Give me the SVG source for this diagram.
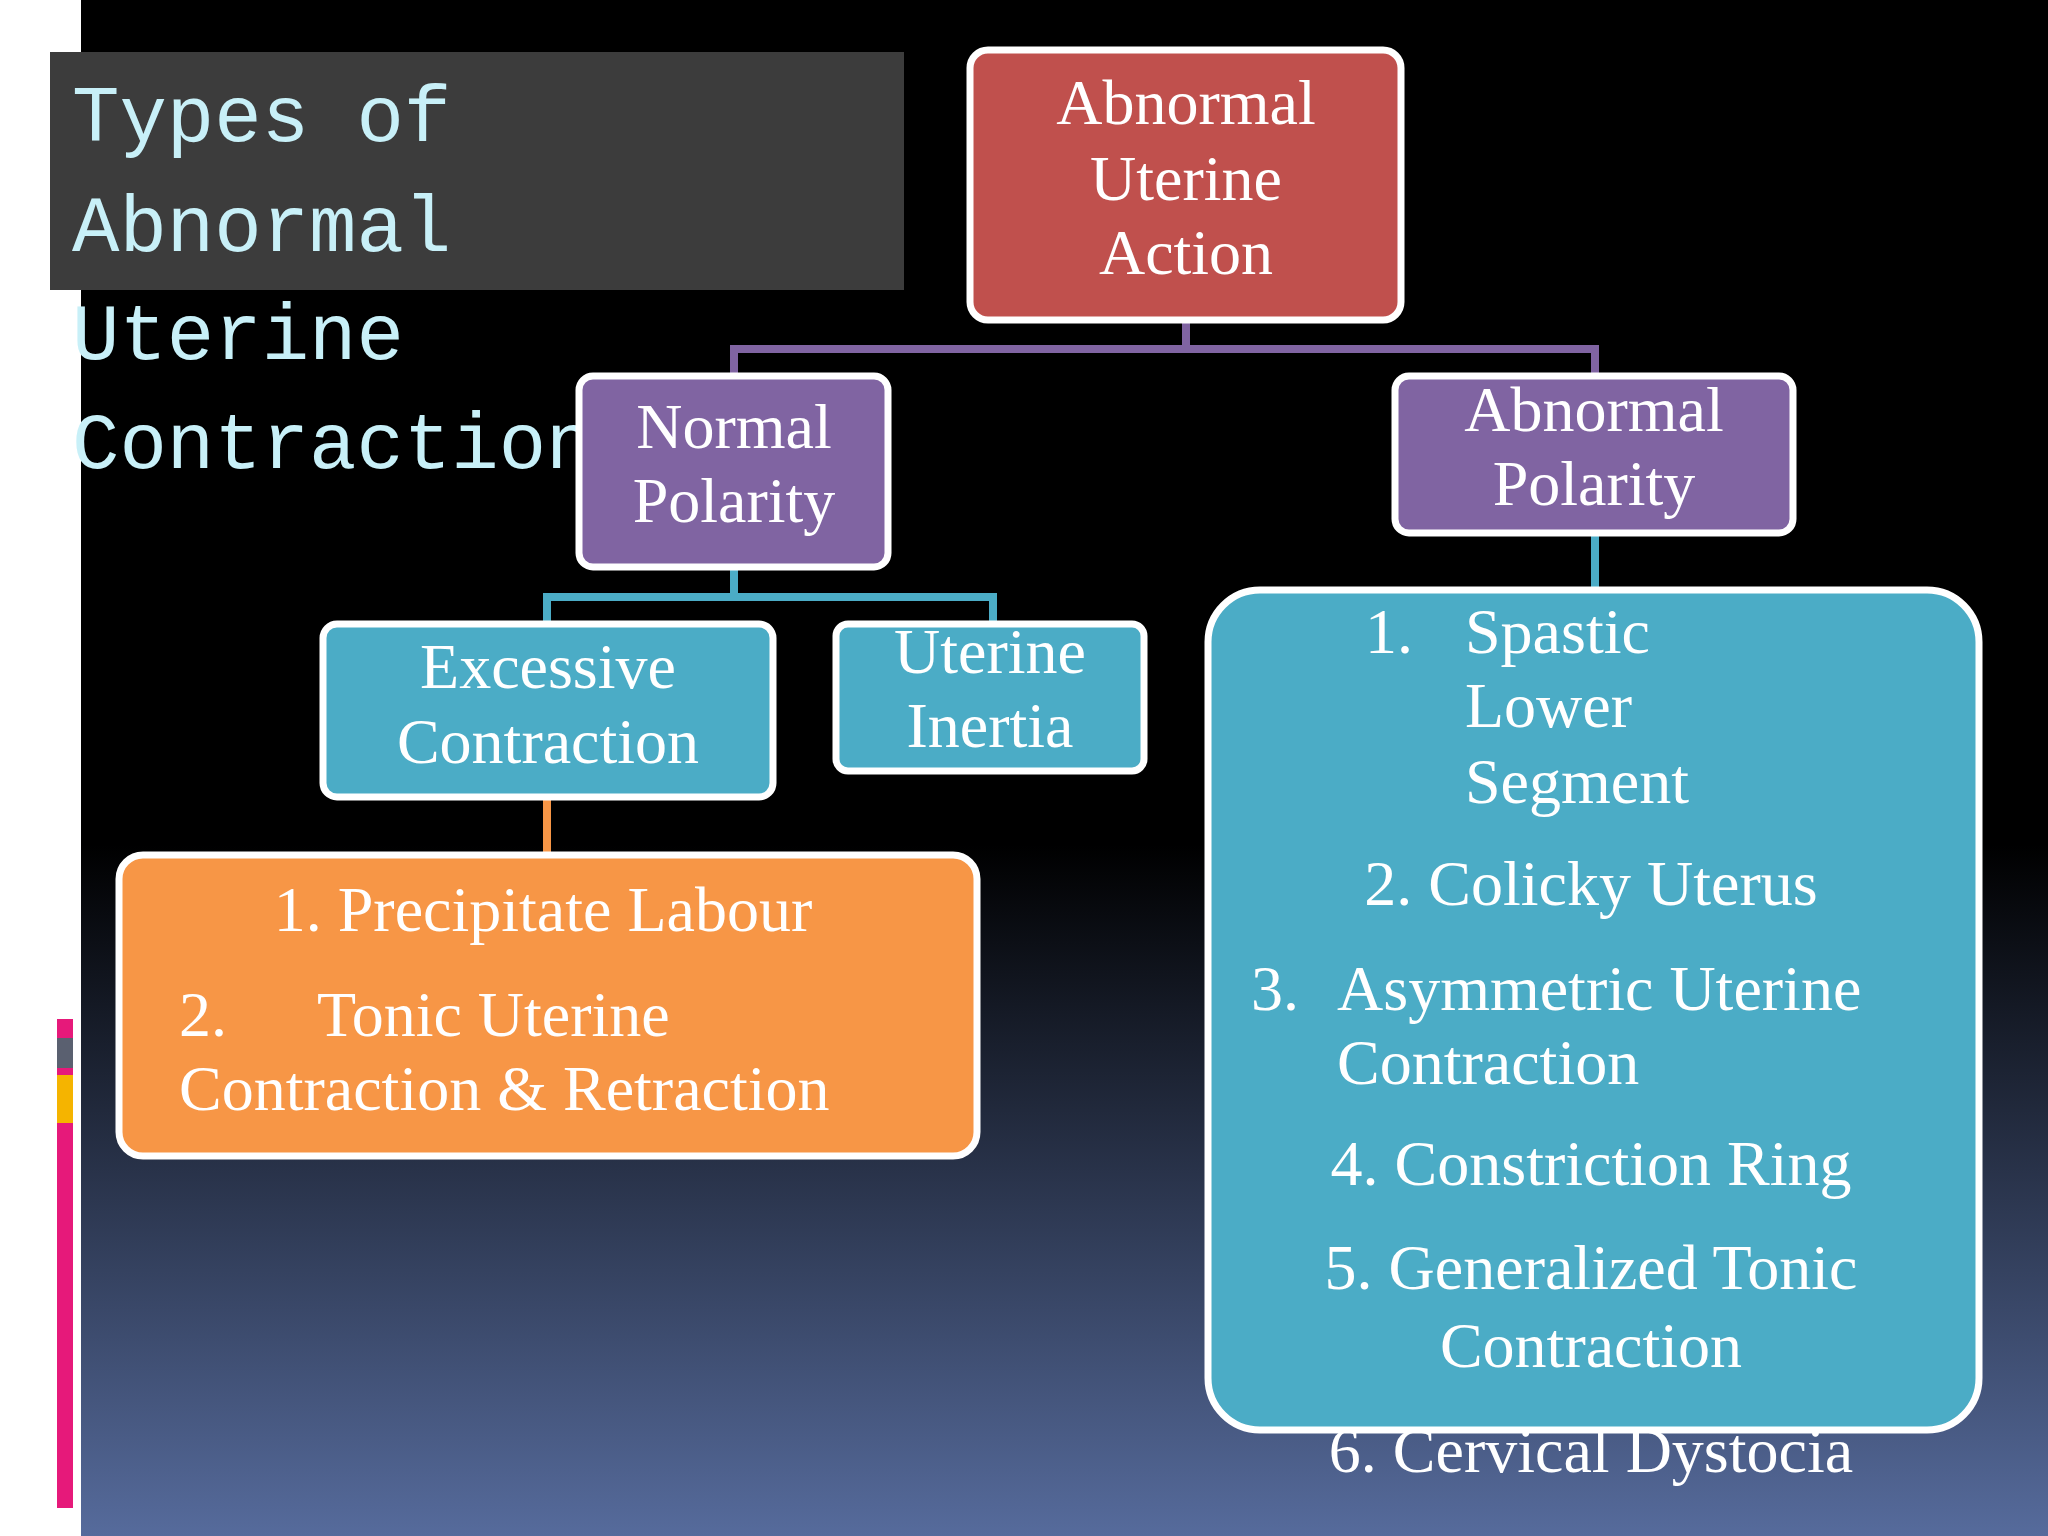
<svg xmlns="http://www.w3.org/2000/svg" width="2048" height="1536" viewBox="0 0 2048 1536">
<defs>
<linearGradient id="bg" x1="0" y1="0" x2="0" y2="1">
<stop offset="0" stop-color="#000"/><stop offset="0.55" stop-color="#000"/><stop offset="1" stop-color="#566b9c"/>
</linearGradient>
<style>
.box{stroke:#fff;stroke-width:7}
.t{font-family:"Liberation Serif",serif;font-size:64px;fill:#fff}
.c{text-anchor:middle}
.ttl{font-family:"Liberation Mono",monospace;font-size:79px;fill:#c8f0f8}
.ln{fill:none;stroke-width:8}
</style>
</defs>
<rect width="2048" height="1536" fill="url(#bg)"/>
<rect x="0" y="0" width="81" height="1536" fill="#fff"/>
<rect x="57" y="1019" width="16" height="489" fill="#e6197a"/>
<rect x="57" y="1038" width="16" height="30" fill="#5a6070"/>
<rect x="57" y="1075" width="16" height="48" fill="#f5b400"/>
<rect x="50" y="52" width="854" height="238" fill="#3c3c3c"/>
<g id="title">
<text class="ttl" x="72" y="141">Types of</text>
<text class="ttl" x="72" y="251">Abnormal</text>
<text class="ttl" x="72" y="359">Uterine</text>
<text class="ttl" x="72" y="468">Contraction</text>
</g>
<g id="connectors">
<path class="ln" stroke="#8064a2" d="M1186 320V349M734 349H1595M734 345V376M1595 345V376"/>
<path class="ln" stroke="#4bacc6" d="M734 567V597M547 597H993M547 593V624M993 593V624M1595 533V590"/>
<path class="ln" stroke="#f79646" d="M547 797V855"/>
</g>
<g id="n-root">
<rect class="box" x="970" y="50" width="431" height="270" rx="18" fill="#c0504d"/>
<text class="t c" x="1186" y="124">Abnormal</text>
<text class="t c" x="1186" y="200">Uterine</text>
<text class="t c" x="1186" y="274">Action</text>
</g>
<g id="n-normal">
<rect class="box" x="579" y="376" width="309" height="191" rx="14" fill="#8064a2"/>
<text class="t c" x="734" y="448">Normal</text>
<text class="t c" x="734" y="522">Polarity</text>
</g>
<g id="n-abnormal">
<rect class="box" x="1395" y="376" width="398" height="157" rx="14" fill="#8064a2"/>
<text class="t c" x="1594" y="431">Abnormal</text>
<text class="t c" x="1594" y="505">Polarity</text>
</g>
<g id="n-excessive">
<rect class="box" x="323" y="624" width="450" height="173" rx="14" fill="#4bacc6"/>
<text class="t c" x="548" y="688">Excessive</text>
<text class="t c" x="548" y="763">Contraction</text>
</g>
<g id="n-inertia">
<rect class="box" x="836" y="624" width="308" height="147" rx="12" fill="#4bacc6"/>
<text class="t c" x="990" y="673">Uterine</text>
<text class="t c" x="990" y="747">Inertia</text>
</g>
<g id="n-orange">
<rect class="box" x="119" y="855" width="858" height="301" rx="24" fill="#f79646"/>
<text class="t c" x="543" y="931">1. Precipitate Labour</text>
<text class="t" x="179" y="1036">2.</text>
<text class="t" x="317" y="1036">Tonic Uterine</text>
<text class="t" x="179" y="1110">Contraction &amp; Retraction</text>
</g>
<g id="n-list">
<rect class="box" x="1208" y="590" width="771" height="840" rx="52" fill="#4bacc6"/>
<text class="t" x="1365" y="653">1.</text>
<text class="t" x="1465" y="653">Spastic</text>
<text class="t" x="1465" y="727">Lower</text>
<text class="t" x="1465" y="803">Segment</text>
<text class="t c" x="1591" y="905">2. Colicky Uterus</text>
<text class="t" x="1251" y="1010">3.</text>
<text class="t" x="1337" y="1010">Asymmetric Uterine</text>
<text class="t" x="1337" y="1084">Contraction</text>
<text class="t c" x="1591" y="1185">4. Constriction Ring</text>
<text class="t c" x="1591" y="1289">5. Generalized Tonic</text>
<text class="t c" x="1591" y="1367">Contraction</text>
<text class="t c" x="1591" y="1472">6. Cervical Dystocia</text>
</g>
</svg>
